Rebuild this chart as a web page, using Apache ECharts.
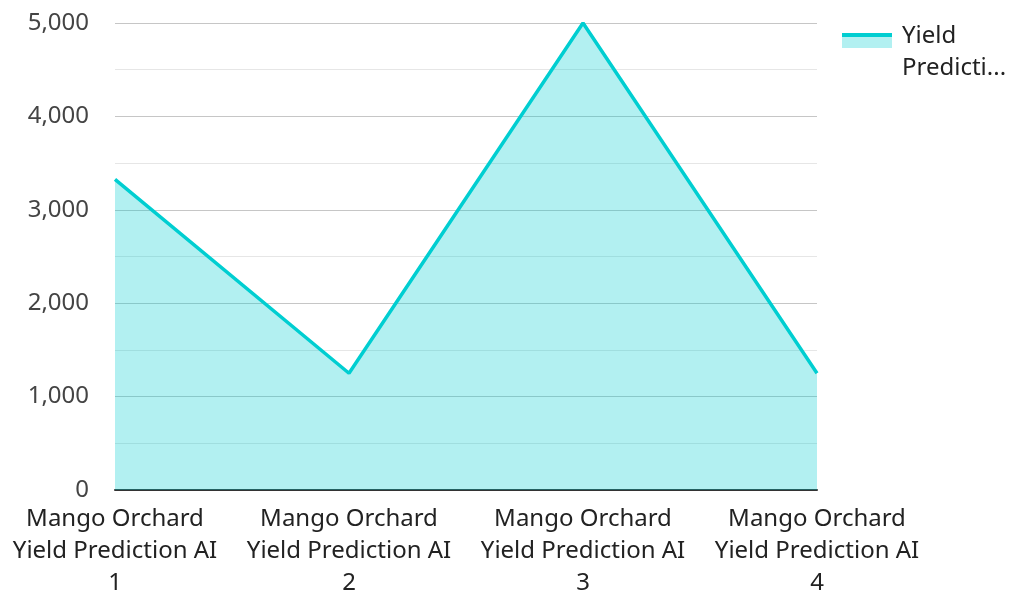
<!DOCTYPE html>
<html>
<head>
<meta charset="utf-8">
<script src="https://cdn.jsdelivr.net/npm/echarts@6/dist/echarts.min.js"></script>
<style>
  html, body { margin: 0; padding: 0; background: #fff; }
  #chart { width: 1009px; height: 594px; }
</style>
</head>
<body>
<div id="chart"></div>
<script>
var categories = [
  'Mango Orchard Yield Prediction AI 1',
  'Mango Orchard Yield Prediction AI 2',
  'Mango Orchard Yield Prediction AI 3',
  'Mango Orchard Yield Prediction AI 4'
];
var seriesName = 'Yield Prediction';
var yieldValues = [3325, 1250, 5000, 1250];

var FONT = '"Noto Sans", sans-serif';
var LINE = '#00ced1';
var FILL = '#b2f0f1';

var myChart = echarts.init(document.getElementById('chart'));

var options = {
  animation: false,
  textStyle: { fontFamily: FONT },
  grid: { left: 115, right: 192, top: 23, bottom: 104, containLabel: false, outerBoundsMode: 'none' },
  legend: [
    {
      // light area swatch, drawn under the line swatch
      left: 842, top: 33, padding: 0,
      itemWidth: 50, itemHeight: 15,
      icon: 'rect',
      itemStyle: { color: FILL },
      selectedMode: false,
      formatter: function () { return ''; },
      data: [seriesName]
    },
    {
      // line swatch at top of a taller box so the two text lines sit lower
      // (box top is the text top, hence top 20)
      left: 842, top: 20, padding: 0,
      itemWidth: 50, itemHeight: 38,
      icon: 'path://M0,0H50V4H0Z M0,38H0.01V38.01H0Z',
      itemStyle: { color: LINE },
      selectedMode: false,
      formatter: function (name) { return name.replace(' ', '\n'); },
      textStyle: {
        fontFamily: FONT, fontSize: 24, color: '#222',
        lineHeight: 32, width: 112, overflow: 'truncate', ellipsis: '...',
        padding: [0, 0, 0, 5]
      },
      data: [seriesName]
    }
  ],
  xAxis: {
    type: 'category',
    boundaryGap: false,
    data: categories,
    axisLine: { lineStyle: { color: '#333', width: 2 } },
    axisTick: { show: false },
    axisLabel: {
      interval: 0,
      margin: 13,
      fontFamily: FONT, fontSize: 24, color: '#222', lineHeight: 32,
      formatter: function (v) {
        return v.replace(' Yield', '\nYield').replace(/ (\d+)$/, '\n$1');
      }
    }
  },
  yAxis: {
    type: 'value',
    min: 0, max: 5000, interval: 1000,
    axisLine: { show: false },
    axisTick: { show: false },
    axisLabel: {
      margin: 26,
      fontFamily: FONT, fontSize: 24, color: '#444',
      formatter: function (v) { return v.toLocaleString('en-US'); }
    },
    splitLine: { lineStyle: { color: '#c6c6c6', width: 1 } },
    minorTick: { show: false, splitNumber: 2 },
    minorSplitLine: { show: true, lineStyle: { color: '#e6e6e6', width: 1 } }
  },
  series: [
    {
      name: seriesName,
      type: 'line',
      data: yieldValues,
      symbol: 'none',
      lineStyle: { color: LINE, width: 3.5 },
      itemStyle: { color: LINE },
      areaStyle: { color: LINE, opacity: 0.3 }
    }
  ]
};

myChart.setOption(options);
</script>
</body>
</html>
